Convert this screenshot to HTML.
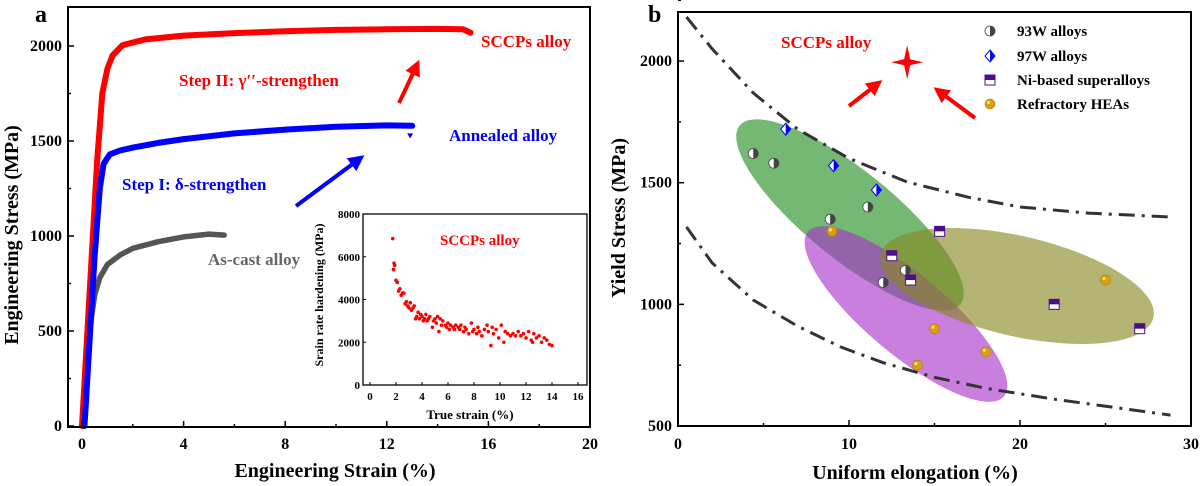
<!DOCTYPE html>
<html><head><meta charset="utf-8"><style>
body{margin:0;background:#fff;width:1200px;height:486px;overflow:hidden}
svg{display:block;font-family:"Liberation Serif",serif;font-weight:bold}
</style></head><body>
<svg id="fig" width="1200" height="486" viewBox="0 0 1200 486">
<defs>
<marker id="ahr" markerWidth="4" markerHeight="4" refX="2" refY="2" orient="auto" markerUnits="strokeWidth"><path d="M0,0 L4,2 L0,4 z" fill="#f00"/></marker>
<marker id="ahb" markerWidth="4" markerHeight="4" refX="2" refY="2" orient="auto" markerUnits="strokeWidth"><path d="M0,0 L4,2 L0,4 z" fill="#00f"/></marker>
</defs>
<g id="pa"></g>
<g id="pi"></g>
<g id="pb"></g>
</svg>
<script>
// ===== Panel a data =====
const redX=[0,0.15,0.3,0.45,0.6,0.8,1.0,1.2,1.6,2.5,4,6,8,10,12,14,15,15.3];
const redY=[0,350,700,1050,1400,1750,1880,1950,2005,2035,2055,2068,2078,2085,2088,2090,2088,2070];
const blueX=[0.1,0.3,0.5,0.7,0.85,1.1,1.5,2,3,4,6,8,10,12,13];
const blueY=[0,450,900,1250,1380,1430,1450,1465,1490,1510,1540,1560,1575,1582,1580];
const grayX=[0,0.2,0.35,0.5,0.7,1,1.5,2,3,4,5,5.6];
const grayY=[0,350,550,690,780,850,900,935,970,995,1010,1005];
const aXTicks=[0,4,8,12,16,20];
const aYTicks=[0,500,1000,1500,2000];
// ===== Inset data =====
const inX=[1.75,1.8,1.9,1.85,2.0,2.1,2.2,2.3,2.4,2.5,2.6,2.7,2.8,2.9,3.0,3.1,3.2,3.3,3.4,3.5,3.6,3.7,3.8,3.9,4.0,4.1,4.2,4.3,4.4,4.5,4.6,4.8,4.9,5.0,5.1,5.2,5.3,5.4,5.5,5.6,5.8,5.9,6.0,6.1,6.2,6.4,6.5,6.6,6.8,6.9,7.0,7.2,7.3,7.4,7.6,7.8,7.9,8.0,8.2,8.3,8.4,8.6,8.8,9.0,9.1,9.3,9.4,9.5,9.7,9.9,10.1,10.3,10.4,10.6,10.8,11.0,11.2,11.4,11.6,11.8,12.0,12.2,12.4,12.5,12.6,12.8,13.0,13.2,13.4,13.6,13.8,14.0];
const inY=[6850,5400,5600,5700,4900,4800,4400,4500,4200,4300,4300,3800,3900,3700,3600,3850,3500,3600,3700,3100,3200,3400,3100,3300,3200,3000,3100,3300,3000,3100,3200,2700,3000,3100,2900,3200,2500,3100,2800,3000,2800,2700,2900,2600,2800,2700,2600,2800,2700,2600,2800,2500,2700,2600,2400,2900,2500,2600,2400,2700,2500,2300,2600,2800,2500,1850,2700,2400,2600,2200,2800,2000,2500,2400,2300,2400,2300,2500,2300,2400,2200,2500,2100,2000,2400,2200,2300,2000,2200,2100,1900,1850];
const inXTicks=[0,2,4,6,8,10,12,14,16];
const inYTicks=[0,2000,4000,6000,8000];
// ===== Panel b data =====
const w93X=[4.4,5.6,11.1,8.9,13.3,12.0];
const w93Y=[1620,1580,1400,1350,1140,1090];
const w97X=[6.3,9.1,11.6];
const w97Y=[1720,1570,1470];
const niX=[15.3,12.5,13.6,22.0,27.0];
const niY=[1300,1200,1100,1000,900];
const heaX=[9.0,25.0,15.0,18.0,14.0];
const heaY=[1300,1100,900,805,750];
const starX=[13.4], starY=[1995];
const upX=[0.5,2,4.4,7,10,13.4,17,20,24,28.8];
const upY=[2181,2050,1869,1720,1600,1503,1440,1400,1375,1359];
const loX=[0.5,2,4.4,7,9.5,12,15,18,22,28.8];
const loY=[1318,1170,1018,910,825,760,700,655,610,545];
const bXTicks=[0,10,20,30];
const bYTicks=[500,1000,1500,2000];

const NS='http://www.w3.org/2000/svg';
function mk(p,tag,at,txt){const e=document.createElementNS(NS,tag);for(const k in at)e.setAttribute(k,at[k]);if(txt!=null)e.textContent=txt;p.appendChild(e);return e;}

// ---- Panel a ----
const A=document.getElementById('pa');
const ax=v=>82+v*25.4, ay=v=>426-v*0.19;
let e;
e=mk(A,'text',{x:35,y:22,'font-size':24,fill:'#000'},'a');

function line(g,xs,ys,fx,fy,col,w,name){let d=xs.map((x,i)=>(i?'L':'M')+fx(x).toFixed(1)+','+fy(ys[i]).toFixed(1)).join('');const p=mk(g,'path',{d:d,fill:'none',stroke:col,'stroke-width':w,'stroke-linejoin':'round','stroke-linecap':'round'});return p;}
line(A,grayX,grayY,ax,ay,'#555',5.5,'as-cast-curve');
line(A,redX,redY,ax,ay,'#ff0000',6,'sccps-curve');
line(A,blueX,blueY,ax,ay,'#0000ff',6,'annealed-curve');
e=mk(A,'path',{d:`M${ax(12.8)},${ay(1540)} l6,0 l-3,5 z`,fill:'#00f'});

e=mk(A,'rect',{x:68,y:7,width:522,height:420,fill:'none',stroke:'#000','stroke-width':2});

aXTicks.forEach(v=>{const t=mk(A,'text',{x:ax(v),y:449,'font-size':16,'text-anchor':'middle'},v);
 mk(A,'line',{x1:ax(v),y1:427,x2:ax(v),y2:421,stroke:'#000','stroke-width':1.5});
 if(v<20)mk(A,'line',{x1:ax(v+2),y1:427,x2:ax(v+2),y2:424,stroke:'#000','stroke-width':1.5});});
aYTicks.forEach(v=>{const t=mk(A,'text',{x:62,y:ay(v)+5,'font-size':16,'text-anchor':'end'},v);
 mk(A,'line',{x1:68,y1:ay(v),x2:74,y2:ay(v),stroke:'#000','stroke-width':1.5});
 mk(A,'line',{x1:68,y1:ay(v+250),x2:71,y2:ay(v+250),stroke:'#000','stroke-width':1.5});});
e=mk(A,'text',{x:335,y:477,'font-size':20,'text-anchor':'middle'},'Engineering Strain (%)');

e=mk(A,'text',{x:0,y:0,'font-size':20,'text-anchor':'middle',transform:'translate(18,235) rotate(-90)'},'Engineering Stress (MPa)');

const ann=[['SCCPs alloy',481,47,'#f00','label-sccps'],['Step II: γ′′-strengthen',179,86,'#f00','label-step-2'],['Annealed alloy',449,141,'#00f','label-annealed'],['Step I: δ-strengthen',122,190,'#00f','label-step-1'],['As-cast alloy',208,265,'#666','label-as-cast']];
ann.forEach(a=>{const t=mk(A,'text',{x:a[1],y:a[2],'font-size':17,fill:a[3]},a[0]);});
e=mk(A,'line',{x1:399,y1:103,x2:416,y2:67,stroke:'#f00','stroke-width':4,'marker-end':'url(#ahr)'});

e=mk(A,'line',{x1:296,y1:206,x2:358,y2:160,stroke:'#00f','stroke-width':4,'marker-end':'url(#ahb)'});


// ---- Inset ----
const I=document.getElementById('pi');
const ix=v=>370+v*13, iy=v=>385-v*171/8000;
e=mk(I,'rect',{x:363,y:214,width:224,height:171,fill:'#fff',stroke:'#000','stroke-width':1.3});

inX.forEach((x,i)=>{const c=mk(I,'circle',{cx:ix(x),cy:iy(inY[i]),r:1.8,fill:'#f00'});});
inXTicks.forEach(v=>{const t=mk(I,'text',{x:ix(v),y:400,'font-size':11,'text-anchor':'middle'},v);mk(I,'line',{x1:ix(v),y1:385,x2:ix(v),y2:382,stroke:'#000'});});
inYTicks.forEach(v=>{const t=mk(I,'text',{x:360,y:iy(v)+4,'font-size':11,'text-anchor':'end'},v);mk(I,'line',{x1:363,y1:iy(v),x2:366,y2:iy(v),stroke:'#000'});});
e=mk(I,'text',{x:470,y:419,'font-size':13,'text-anchor':'middle'},'True strain (%)');

e=mk(I,'text',{x:0,y:0,'font-size':12,'text-anchor':'middle',transform:'translate(323,295) rotate(-90)'},'Srain rate hardening (MPa)');

e=mk(I,'text',{x:440,y:245,'font-size':15,fill:'#f00'},'SCCPs alloy');


// ---- Panel b ----
const B=document.getElementById('pb');
const bx=v=>678+v*17.1, by=v=>426-(v-500)*0.2433;
e=mk(B,'text',{x:648,y:22,'font-size':24},'b');

function ell(cx,cy,rx,ry,ang,col,name){const el=mk(B,'ellipse',{cx:cx,cy:cy,rx:rx,ry:ry,fill:col,'fill-opacity':0.62,transform:`rotate(${ang} ${cx} ${cy})`});}
ell(850,215,142,44,39,'#1e8c1e','ellipse-93w-97w');
ell(906,314,128,40,40,'#a830c8','ellipse-hea');
ell(1017,286,140,50,13,'#86881e','ellipse-ni');
function curve(xs,ys,name){const p=line(B,xs,ys,bx,by,'#333',3,name);p.setAttribute('stroke-dasharray','16,7,3,7');p.setAttribute('stroke-linecap','butt');}
curve(upX,upY,'upper-boundary');
curve(loX,loY,'lower-boundary');
e=mk(B,'rect',{x:678,y:12,width:513,height:414,fill:'none',stroke:'#000','stroke-width':2});

bXTicks.forEach(v=>{const t=mk(B,'text',{x:bx(v),y:449,'font-size':16,'text-anchor':'middle'},v);mk(B,'line',{x1:bx(v),y1:426,x2:bx(v),y2:420,stroke:'#000','stroke-width':1.5});if(v<30)mk(B,'line',{x1:bx(v+5),y1:426,x2:bx(v+5),y2:423,stroke:'#000','stroke-width':1.5});});
bYTicks.forEach(v=>{const t=mk(B,'text',{x:672,y:by(v)+5,'font-size':16,'text-anchor':'end'},v);mk(B,'line',{x1:678,y1:by(v),x2:684,y2:by(v),stroke:'#000','stroke-width':1.5});mk(B,'line',{x1:678,y1:by(v+250),x2:681,y2:by(v+250),stroke:'#000','stroke-width':1.5});});
e=mk(B,'text',{x:915,y:479,'font-size':20,'text-anchor':'middle'},'Uniform elongation (%)');

e=mk(B,'text',{x:0,y:0,'font-size':20,'text-anchor':'middle',transform:'translate(625,218) rotate(-90)'},'Yield Stress (MPa)');

function m93(g,x,y){mk(g,'circle',{cx:x,cy:y,r:5,fill:'#fff',stroke:'#444','stroke-width':0.8});mk(g,'path',{d:`M${x},${y-5} A5,5 0 0 1 ${x},${y+5} z`,fill:'#444'});}
function m97(g,x,y){mk(g,'path',{d:`M${x},${y-6} L${x+5},${y} L${x},${y+6} L${x-5},${y} z`,fill:'#fff',stroke:'#00f','stroke-width':1});mk(g,'path',{d:`M${x},${y-6} L${x+5},${y} L${x},${y+6} z`,fill:'#00f'});}
function mni(g,x,y){mk(g,'rect',{x:x-5,y:y-5,width:10,height:10,fill:'#fff',stroke:'#4b0f8c','stroke-width':1});mk(g,'rect',{x:x-5,y:y-5,width:10,height:5,fill:'#4b0f8c'});}
function mhea(g,x,y){mk(g,'circle',{cx:x,cy:y,r:5,fill:'#d9a010',stroke:'#b07c00','stroke-width':0.6});mk(g,'circle',{cx:x-1.5,cy:y-1.5,r:1.6,fill:'#f7e08a'});}
function series(xs,ys,fn,name){xs.forEach((x,i)=>{const g=mk(B,'g',{});fn(g,bx(x),by(ys[i]));});}
series(w93X,w93Y,m93,'point-93w');
series(w97X,w97Y,m97,'point-97w');
series(niX,niY,mni,'point-ni-superalloy');
series(heaX,heaY,mhea,'point-refractory-hea');
starX.forEach((x,i)=>{const cx=bx(x),cy=by(starY[i]);const s=mk(B,'path',{d:`M${cx},${cy-17} L${cx+3},${cy-3} L${cx+16},${cy} L${cx+3},${cy+3} L${cx},${cy+17} L${cx-3},${cy+3} L${cx-16},${cy} L${cx-3},${cy-3} z`,fill:'#f00'});});
e=mk(B,'text',{x:781,y:48,'font-size':17,fill:'#f00'},'SCCPs alloy');

e=mk(B,'line',{x1:849,y1:106,x2:876,y2:85,stroke:'#f00','stroke-width':4,'marker-end':'url(#ahr)'});

e=mk(B,'line',{x1:975,y1:118,x2:940,y2:92,stroke:'#f00','stroke-width':4,'marker-end':'url(#ahr)'});

const leg=[['93W alloys',m93,31],['97W alloys',m97,56],['Ni-based superalloys',mni,80],['Refractory HEAs',mhea,104]];
leg.forEach(l=>{const g=mk(B,'g',{});l[1](g,990,l[2]);mk(g,'text',{x:1017,y:l[2]+5,'font-size':15},l[0]);});
</script>
</body></html>
